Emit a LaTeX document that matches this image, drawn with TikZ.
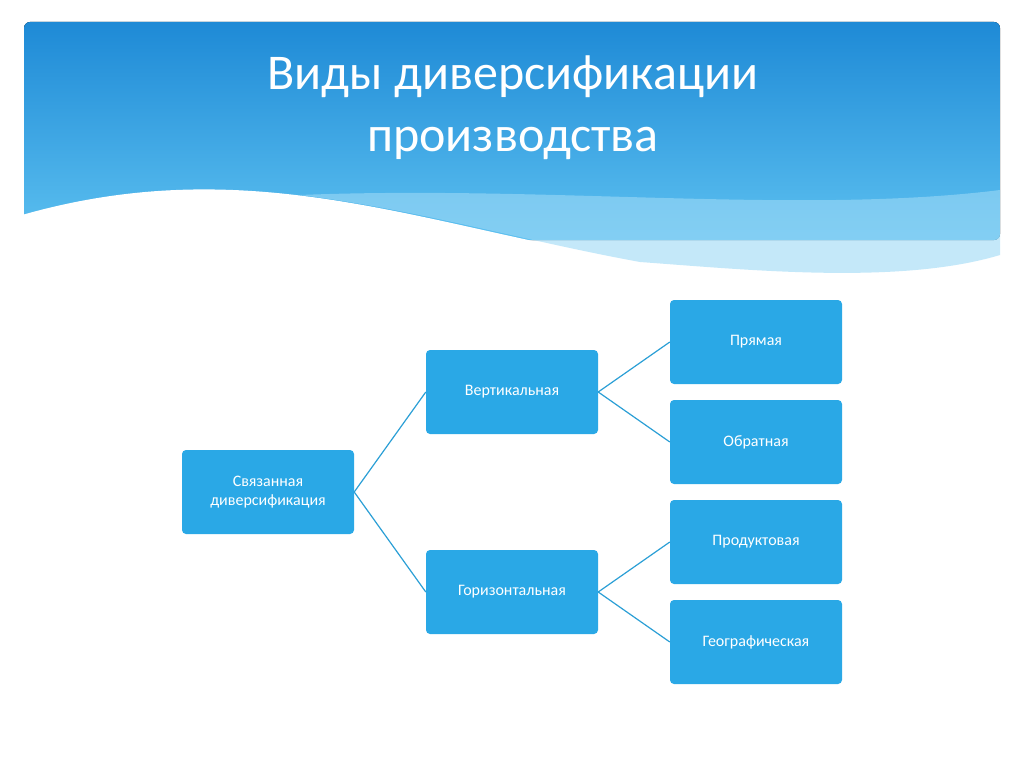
\documentclass[tikz,border=0pt]{standalone}
\usepackage{fontspec}
\setmainfont{Carlito}
\usetikzlibrary{positioning}
\definecolor{boxblue}{HTML}{2AA8E6}
\definecolor{linkblue}{HTML}{2B9FD6}
\definecolor{headtop}{HTML}{1E8AD6}
\definecolor{headbot}{HTML}{5CC0F0}
\tikzset{
  box/.style={fill=boxblue,rounded corners=4pt,minimum width=172pt,minimum height=84pt,
    text=white,font=\fontsize{16}{19}\selectfont,align=center,inner sep=2pt},
  link/.style={draw=linkblue,line width=1.2pt}
}
\begin{document}
\begin{tikzpicture}[x=1pt,y=-1pt]
\fill[white] (0,0) rectangle (1024,767);
% header band
\fill[top color=headtop,bottom color=headbot,rounded corners=6pt]
  (24,22) -- (1000,22) -- (1000,240) -- (24,240) -- cycle;
\fill[white] (22,215) .. controls (250,150) and (420,225) .. (640,262)
  .. controls (820,290) and (930,280) .. (1002,255) -- (1002,300) -- (22,300) -- cycle;
\fill[headbot!60,opacity=.6] (300,195) .. controls (550,185) and (800,215) .. (1000,190)
  -- (1000,255) .. controls (900,285) and (750,270) .. (640,262)
  .. controls (520,240) and (420,210) .. (300,195) -- cycle;
\node[text=white,font=\fontsize{50}{62}\selectfont,align=center] (title) at (513,108)
  {Виды диверсификации\\производства};
% boxes
\node[box] (root) at (268,492) {Связанная\\диверсификация};
\node[box] (vert) at (512,392) {Вертикальная};
\node[box] (horiz) at (512,592) {Горизонтальная};
\node[box] (direct) at (756,342) {Прямая};
\node[box] (back) at (756,442) {Обратная};
\node[box] (prod) at (756,542) {Продуктовая};
\node[box] (geo) at (756,642) {Географическая};
\draw[link] (root.east) -- (vert.west);
\draw[link] (root.east) -- (horiz.west);
\draw[link] (vert.east) -- (direct.west);
\draw[link] (vert.east) -- (back.west);
\draw[link] (horiz.east) -- (prod.west);
\draw[link] (horiz.east) -- (geo.west);
\end{tikzpicture}
\end{document}
